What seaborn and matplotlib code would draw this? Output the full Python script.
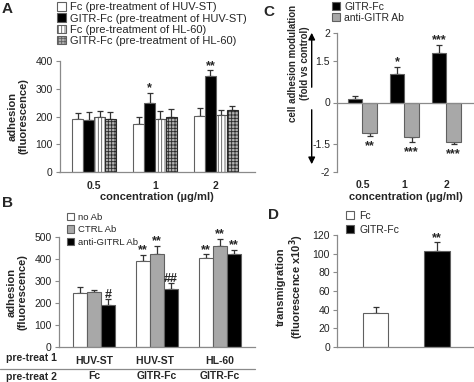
import matplotlib
matplotlib.use("Agg")
import matplotlib.pyplot as plt
import pandas as pd
import seaborn as sns
from matplotlib.lines import Line2D
from matplotlib.patches import FancyArrowPatch, Patch

W, H = 474, 382

# panel A: adhesion vs concentration
A_CONC = ["0.5", "1", "2"]
A_GROUPS = [
    "Fc (pre-treatment of HUV-ST)",
    "GITR-Fc (pre-treatment of HUV-ST)",
    "Fc (pre-treatment of HL-60)",
    "GITR-Fc (pre-treatment of HL-60)",
]
A_FC_HUV = [192, 175, 201]
A_GITR_HUV = [188, 248, 345]
A_FC_HL = [198, 190, 205]
A_GITR_HL = [193, 199, 225]
A_SEM = [[20, 23, 31], [27, 37, 21], [22, 30, 18], [25, 29, 15]]
A_STARS = [["", "", ""], ["", "*", "**"], ["", "", ""], ["", "", ""]]

# panel B: blocking antibodies
B_PRE1 = ["HUV-ST", "HUV-ST ", "HL-60"]
B_PRE2 = ["Fc", "GITR-Fc", "GITR-Fc"]
B_GROUPS = ["no Ab", "CTRL Ab", "anti-GITRL Ab"]
B_NO_AB = [245, 389, 403]
B_CTRL = [249, 421, 460]
B_ANTI = [191, 261, 421]
B_SEM = [[26, 29, 18], [9, 39, 32], [25, 28, 20]]
B_STARS = [["", "**", "**"], ["", "**", "**"], ["#", "##", "**"]]

# panel C: fold modulation
C_CONC = ["0.5", "1", "2"]
C_GROUPS = ["GITR-Fc", "anti-GITR Ab"]
C_GITR = [0.14, 1.03, 1.79]
C_ANTI = [-1.11, -1.25, -1.41]
C_SEM = [[0.10, 0.26, 0.28], [0.08, 0.16, 0.09]]
C_STARS = [["", "*", "***"], ["**", "***", "***"]]
C_TICKS = [-2.5, -1.5, 0, 1.5, 2.5]
C_TICK_LABELS = ["-2", "-1.5", "0", "1.5", "2"]

# panel D: transmigration
D_GROUPS = ["Fc", "GITR-Fc"]
D_VALUES = [36.7, 103]
D_SEM = [5.8, 9]
D_STARS = ["", "**"]

GRAY_EDGE = "#606060"
SPINE = "#8a8a8a"


def box(left, top, right, bottom):
    return [left / W, 1 - bottom / H, (right - left) / W, (bottom - top) / H]


def fx(x):
    return x / W


def fy(y):
    return 1 - y / H


def style_axes(ax):
    sns.despine(ax=ax)
    for side in ["left", "bottom"]:
        ax.spines[side].set_color(SPINE)
        ax.spines[side].set_linewidth(0.9)
    ax.tick_params(axis="y", length=3, width=0.8, color=SPINE, labelsize=7.5, pad=2,
                   labelcolor="#222222")
    ax.tick_params(axis="x", length=0, labelsize=7.5, pad=6)
    for lab in ax.get_xticklabels():
        lab.set_fontweight("bold")
    ax.set_xlabel("")
    ax.set_ylabel("")


def add_errors(ax, sems, stars, star_size=9):
    for container, sem_row, star_row in zip(ax.containers, sems, stars):
        for bar, sem, star in zip(container, sem_row, star_row):
            x = bar.get_x() + bar.get_width() / 2
            h = bar.get_height()
            sign = 1 if h >= 0 else -1
            lower = [0] if sign > 0 else [sem]
            upper = [sem] if sign > 0 else [0]
            ax.errorbar([x], [h], yerr=[lower, upper], fmt="none", ecolor="#333333",
                        elinewidth=0.9, capsize=2.5, capthick=0.9, zorder=1)
            if star:
                end = h + sign * sem
                ax.annotate(star, (x, end), xytext=(0, -1 if sign > 0 else -3),
                            textcoords="offset points", ha="center",
                            va="bottom" if sign > 0 else "top",
                            fontsize=star_size, fontweight="bold")


def add_legend(colors, labels, x, y, size, spacing, hatches=None, textpad=0.4):
    hatches = hatches or [None] * len(colors)
    handles = [Patch(facecolor=c, edgecolor=GRAY_EDGE, hatch=h, linewidth=0.8)
               for c, h in zip(colors, hatches)]
    fig.legend(handles, labels, loc="upper left", bbox_to_anchor=(fx(x), fy(y)),
               frameon=False, fontsize=size, handlelength=0.8, handleheight=0.8,
               handletextpad=textpad, labelspacing=spacing, borderpad=0.2,
               borderaxespad=0)


sns.set_style("ticks")
plt.rcParams["font.family"] = ["Liberation Sans", "DejaVu Sans"]
plt.rcParams["hatch.linewidth"] = 0.6

fig = plt.figure(figsize=(W / 100, H / 100), dpi=100)

# ---------------- A ----------------
ax_a = fig.add_axes(box(59.5, 61, 255, 172.3))
df_a = pd.DataFrame({
    "conc": A_CONC * 4,
    "group": [g for g in A_GROUPS for _ in A_CONC],
    "value": A_FC_HUV + A_GITR_HUV + A_FC_HL + A_GITR_HL,
})
a_colors = ["white", "black", "white", "#b0b0b0"]
a_hatches = [None, None, "|||||", "+++++"]
sns.barplot(data=df_a, x="conc", y="value", hue="group", order=A_CONC,
            hue_order=A_GROUPS, palette=a_colors, width=0.72, edgecolor=GRAY_EDGE,
            linewidth=0.8, legend=False, ax=ax_a, zorder=2)
for container, hatch in zip(ax_a.containers, a_hatches):
    for bar in container:
        if hatch:
            bar.set_hatch(hatch)
            bar.set_edgecolor("#555555" if hatch == "|||||" else "#2a2a2a")
add_errors(ax_a, A_SEM, A_STARS)
ax_a.set_ylim(0, 400)
ax_a.set_yticks([0, 100, 200, 300, 400])
ax_a.set_xlim(-0.566, 2.64)
style_axes(ax_a)
ax_a.set_xlabel("concentration (µg/ml)", fontsize=8, fontweight="bold", labelpad=1)
fig.text(fx(18), fy(116.5), "adhesion\n(fluorescence)", rotation=90, ha="center",
         va="center", fontsize=8, fontweight="bold", linespacing=1.1)
fig.text(fx(2), fy(9), "A", fontsize=11, fontweight="bold", va="center")
add_legend(a_colors, A_GROUPS, 55, 0, 8, 0.1, a_hatches, textpad=0.35)

# ---------------- B ----------------
ax_b = fig.add_axes(box(58.5, 237, 255, 346.7))
df_b = pd.DataFrame({
    "pre": B_PRE1 * 3,
    "group": [g for g in B_GROUPS for _ in B_PRE1],
    "value": B_NO_AB + B_CTRL + B_ANTI,
})
b_colors = ["white", "#a8a8a8", "black"]
sns.barplot(data=df_b, x="pre", y="value", hue="group", order=B_PRE1,
            hue_order=B_GROUPS, palette=b_colors, width=0.67, edgecolor=GRAY_EDGE,
            linewidth=0.8, legend=False, ax=ax_b, zorder=2)
add_errors(ax_b, B_SEM, B_STARS)
ax_b.set_ylim(0, 500)
ax_b.set_yticks([0, 100, 200, 300, 400, 500])
ax_b.set_xlim(-0.563, 2.56)
style_axes(ax_b)
ax_b.tick_params(axis="x", pad=7)
for i, lab in enumerate(B_PRE2):
    ax_b.text(i, -0.27, lab, transform=ax_b.get_xaxis_transform(), ha="center",
              va="center", fontsize=7.5, fontweight="bold")
fig.text(fx(31), fy(358), "pre-treat 1", ha="center", va="center", fontsize=7.5,
         fontweight="bold")
fig.text(fx(31), fy(377), "pre-treat 2", ha="center", va="center", fontsize=7.5,
         fontweight="bold")
fig.add_artist(Line2D([0, fx(255)], [fy(369), fy(369)], color=SPINE, linewidth=0.9))
fig.text(fx(17), fy(292), "adhesion\n(fluorescence)", rotation=90, ha="center",
         va="center", fontsize=8, fontweight="bold", linespacing=1.1)
fig.text(fx(2), fy(203), "B", fontsize=11, fontweight="bold", va="center")
add_legend(b_colors, B_GROUPS, 65, 211, 6.8, 0.35, textpad=0.35)

# ---------------- C ----------------
ax_c = fig.add_axes(box(337, 33, 474, 172))
df_c = pd.DataFrame({
    "conc": C_CONC * 2,
    "group": [g for g in C_GROUPS for _ in C_CONC],
    "value": C_GITR + C_ANTI,
})
c_colors = ["black", "#a8a8a8"]
sns.barplot(data=df_c, x="conc", y="value", hue="group", order=C_CONC,
            hue_order=C_GROUPS, palette=c_colors, width=0.67, edgecolor=GRAY_EDGE,
            linewidth=0.8, legend=False, ax=ax_c, zorder=2)
add_errors(ax_c, C_SEM, C_STARS)
ax_c.axhline(0, color=SPINE, linewidth=0.9, zorder=3)
ax_c.set_ylim(-2.5, 2.5)
ax_c.set_yticks(C_TICKS, C_TICK_LABELS)
ax_c.set_xlim(-0.607, 2.655)
style_axes(ax_c)
ax_c.spines["bottom"].set_visible(False)
ax_c.set_xlabel("concentration (µg/ml)", fontsize=8, fontweight="bold", labelpad=1)
fig.text(fx(299), fy(63), "cell adhesion modulation\n(fold vs control)", rotation=90,
         ha="center", va="center", fontsize=7, fontweight="bold", linespacing=1.15)
for start, end in [((311.7, 90), (311.7, 30)), ((311.7, 107), (311.7, 167))]:
    fig.add_artist(FancyArrowPatch(
        (fx(start[0]), fy(start[1])), (fx(end[0]), fy(end[1])),
        transform=fig.transFigure, arrowstyle="-|>,head_length=4,head_width=2",
        color="black", linewidth=1.0))
fig.text(fx(263), fy(12), "C", fontsize=11, fontweight="bold", va="center")
add_legend(c_colors, C_GROUPS, 330, 0, 7.5, 0.05, textpad=0.35)

# ---------------- D ----------------
ax_d = fig.add_axes(box(337, 235, 474, 347))
df_d = pd.DataFrame({"group": D_GROUPS, "value": D_VALUES})
d_colors = ["white", "black"]
sns.barplot(data=df_d, x="group", y="value", hue="group", order=D_GROUPS,
            hue_order=D_GROUPS, palette=d_colors, width=0.415, edgecolor=GRAY_EDGE,
            linewidth=0.8, legend=False, ax=ax_d, zorder=2)
if len(ax_d.containers[0]) == 1:
    d_sems = [[s] for s in D_SEM]
    d_stars = [[s] for s in D_STARS]
else:
    d_sems = [[s if g == k else 0 for g in D_GROUPS] for k, s in zip(D_GROUPS, D_SEM)]
    d_stars = [[s if g == k else "" for g in D_GROUPS] for k, s in zip(D_GROUPS, D_STARS)]
add_errors(ax_d, d_sems, d_stars)
ax_d.set_ylim(0, 120)
ax_d.set_yticks(range(0, 121, 20))
ax_d.set_xlim(-0.626, 1.6)
style_axes(ax_d)
ax_d.set_xticks([])
fig.text(fx(291), fy(287), "transmigration\n(fluorescence x10$^{\\mathbf{3}}$)",
         rotation=90, ha="center", va="center", fontsize=8, fontweight="bold",
         linespacing=1.1)
fig.text(fx(268), fy(215), "D", fontsize=11, fontweight="bold", va="center")
add_legend(d_colors, D_GROUPS, 344, 209, 7.5, 0.35, textpad=0.5)

fig.savefig("out.png", dpi=100)
